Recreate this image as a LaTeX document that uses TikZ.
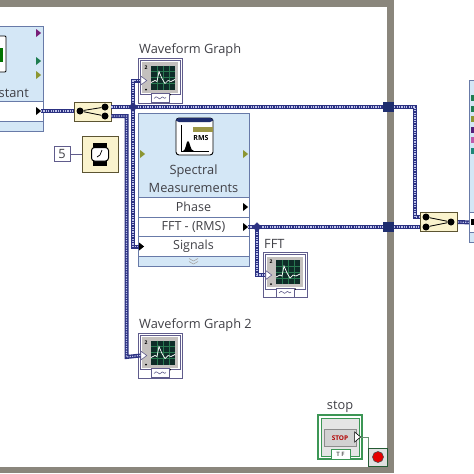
\documentclass[tikz,border=0pt]{standalone}
\usepackage{xcolor}
\usepackage{fontspec}
\setmainfont{Open Sans}
\usetikzlibrary{shapes.geometric,positioning,calc}
\definecolor{framegray}{RGB}{138,134,124}
\definecolor{wireblue}{RGB}{44,50,130}
\definecolor{wirelight}{RGB}{190,195,235}
\definecolor{tunnelblue}{RGB}{30,45,110}
\definecolor{blockfill}{RGB}{212,231,246}
\definecolor{blockline}{RGB}{104,122,168}
\definecolor{creamfill}{RGB}{250,243,205}
\definecolor{creamline}{RGB}{92,84,50}
\definecolor{darktext}{RGB}{64,64,70}
\definecolor{iconline}{RGB}{96,92,140}
\definecolor{panelgray}{RGB}{196,192,190}
\definecolor{plotblack}{RGB}{14,44,40}
\definecolor{plotgreen}{RGB}{40,120,80}
\definecolor{termmagenta}{RGB}{120,30,120}
\definecolor{termgreen}{RGB}{30,125,80}
\definecolor{termolive}{RGB}{140,150,50}
\definecolor{termpurple}{RGB}{85,30,120}
\definecolor{termpink}{RGB}{190,90,170}
\definecolor{termteal}{RGB}{30,135,120}
\definecolor{stopgreen}{RGB}{60,150,85}
\tikzset{
  frameline/.style={fill=framegray, draw=none},
  block/.style   ={rectangle, draw=blockline, fill=blockfill, line width=0.8pt, inner sep=0pt, outer sep=0pt},
  rowbox/.style  ={rectangle, draw=blockline, fill=white, line width=0.8pt, inner sep=0pt, outer sep=0pt,
                   minimum width=111pt, font=\fontsize{12.5}{13}\selectfont, text=darktext},
  lbl/.style     ={font=\fontsize{12.8}{13}\selectfont, text=darktext, inner sep=0pt},
  term/.style    ={isosceles triangle, isosceles triangle stretches, minimum width=8pt, minimum height=5pt,
                   inner sep=0pt, outer sep=0pt, fill=black},
  wire/.style    ={draw=wireblue, line width=4pt, line join=miter,
                   postaction={draw=wirelight, line width=1.2pt, dash pattern=on 1.2pt off 1.2pt}},
  junct/.style   ={diamond, fill=wireblue, draw=wireblue, inner sep=0pt, minimum size=9pt},
  tunnel/.style  ={rectangle, fill=tunnelblue, minimum width=11pt, minimum height=10pt, inner sep=0pt},
  merge/.style   ={rectangle, draw=creamline, fill=creamfill, line width=0.9pt, inner sep=0pt,
                   minimum width=37pt, minimum height=19pt},
  dot/.style     ={circle, fill=black, inner sep=0pt, minimum size=7pt},
  graphbox/.style={rectangle, draw=iconline, fill=white, line width=0.9pt, inner sep=0pt,
                   minimum width=44pt, minimum height=45pt}
}
\newcommand{\graphicon}[3]{
  \node[graphbox] (#1) at (#2,#3) {};
  \begin{scope}[shift={(#1.center)}]
    \draw[iconline, fill=white, line width=0.5pt] (-20,-20.5) rectangle (20,14);
    \fill[panelgray] (-18,-18.5) rectangle (18,12);
    \fill[plotblack] (-9,-15) rectangle (15,9);
    \foreach \gx in {-3,3,9}
      \draw[plotgreen, line width=0.3pt] (\gx,-15) -- (\gx,9);
    \foreach \gy in {-9,-3,3}
      \draw[plotgreen, line width=0.3pt] (-9,\gy) -- (15,\gy);
    \draw[white, line width=0.7pt] (-9,2) -- (-5,0) -- (-3,1) -- (-1,-9) -- (2,-2) -- (5,3) -- (8,0) -- (11,1) -- (15,-1);
    \node[font=\fontsize{5}{5}\selectfont\bfseries, inner sep=0pt] (#1n) at (-14,-13) {2};
    \fill (-14,9) circle (1pt);
    \fill (-8,14) circle (1pt) (10,14) circle (1pt);
    \draw[iconline, fill=white, line width=0.6pt] (-9,13) rectangle (9,22);
    \draw[iconline, line width=0.6pt] (-6,18) .. controls (-3,13) and (-1,21) .. (1,17.5) .. controls (3,14) and (4,20) .. (6,17);
    \node[isosceles triangle, isosceles triangle stretches, minimum width=9pt, minimum height=6pt,
          inner sep=0pt, fill=white, draw=iconline, line width=0.6pt] (#1t) at (-17,0) {};
  \end{scope}
}
\begin{document}
\begin{tikzpicture}[x=1pt,y=-1pt]
\useasboundingbox (0,0) rectangle (474,474);
% ---- Loop frame ----
\fill[frameline] (0,0) rectangle (393,7);
\fill[frameline] (387,0) rectangle (393.5,473);
\fill[frameline] (0,467) rectangle (393.5,473);

% ---- Left block ----
\node[block, minimum width=63pt, minimum height=105pt] (constblock) at (11.5,78.5) {};
\node[rectangle, draw=blockline, fill=white, line width=0.8pt, minimum width=63pt, minimum height=20pt, inner sep=0pt] (constrow) at (11.5,111) {};
\node[lbl, anchor=east] (consttext) at (29,93) {stant};
\draw[black, fill=white, line width=0.8pt, rounded corners=1pt] (-6,36) rectangle (6,72);
\fill[green!45!black] (-6,48) rectangle (3,62);
\node[term, fill=termmagenta] (constm) at (38,33) {};
\node[term, fill=termgreen] (constg) at (38,61) {};
\node[term, fill=termolive] (consto) at (38,75) {};
\node[term] (constout) at (38,111) {};

% ---- Split and wait ----
\node[merge] (splitnode) at (92.5,111.5) {};
\node[dot] (splita) at (80,111) {};
\node[dot] (splitb) at (105,107) {};
\node[dot] (splitc) at (105,116) {};
\draw[black, line width=0.8pt] (splita) -- (splitb);
\draw[black, line width=0.8pt] (splita) -- (splitc);
\node[rectangle, draw=iconline, fill=white, line width=0.9pt, minimum width=16pt, minimum height=15pt, inner sep=0pt, lbl] (fiveconst) at (62,154) {5};
\node[rectangle, draw=creamline, fill=creamfill, line width=0.9pt, minimum width=36pt, minimum height=36pt, inner sep=0pt, right=12pt of fiveconst] (waitnode) {};
\draw[iconline, line width=0.8pt] (fiveconst) -- (waitnode);
\fill[black] (93,143) rectangle (107,149);
\fill[black] (93,160) rectangle (107,166);
\draw[black, fill=white, line width=1pt, rounded corners=3pt] (91.5,147.5) rectangle (108.5,161);
\draw[black, line width=0.7pt] (100,155) -- (102,150) (100,155) -- (97,157);

% ---- Graphs ----
\graphicon{wavegraph}{160}{80.5}
\node[lbl, anchor=west] (wavelabel) at (139,50.5) {Waveform Graph};
\graphicon{wavegraphb}{160}{355.5}
\node[lbl, anchor=west] (wavelabelb) at (139,325.5) {Waveform Graph 2};
\graphicon{fftgraph}{285}{275}
\node[lbl, anchor=west] (fftlabel) at (264,244) {FFT};

% ---- Spectral block ----
\node[block, minimum width=111pt, minimum height=153pt] (specblock) at (193.5,189.5) {};
\node[rowbox, minimum height=20pt] (phaserow) at (193.5,207) {Phase};
\node[rowbox, minimum height=19.5pt, below=0pt of phaserow] (fftrow) {FFT - (RMS)};
\node[rowbox, minimum height=19.5pt, below=0pt of fftrow] (signalrow) {Signals};
\node[lbl] (spectext) at (193.5,171) {Spectral};
\node[lbl] (meastext) at (193.5,188) {Measurements};
\draw[black!35, line width=0.6pt] (189,258.5) -- (193.5,261) -- (198,258.5) (189,261.5) -- (193.5,264) -- (198,261.5);
\draw[black, fill=white, line width=0.9pt, rounded corners=3pt] (176,118) rectangle (213,155);
\fill[tunnelblue] (176,118) [rounded corners=3pt] -- (213,118) -- (213,122) -- (176,122) -- cycle;
\fill[yellow!55!black] (193,127) rectangle (213,132);
\draw[black, line width=0.6pt] (181,125) -- (181,151) -- (209,151);
\fill[black] (183,151) .. controls (186,151) and (186,141) .. (188,141) .. controls (190,141) and (190,151) .. (194,151) -- cycle;
\node[font=\fontsize{7}{7}\selectfont\bfseries, inner sep=0pt] (rmstext) at (201,138) {RMS};
\node[term, fill=termolive] (specin) at (142,154) {};
\node[term, fill=termolive] (specout) at (245,154) {};
\node[term] (phaseout) at (245,207) {};
\node[term] (fftout) at (245,227) {};
\node[term] (signalin) at (141,246.5) {};

% ---- Stop ----
\node[rectangle, draw=stopgreen, fill=white, line width=1.4pt, minimum width=44pt, minimum height=44pt, inner sep=0pt] (stopbox) at (340,437) {};
\node[rectangle, draw=stopgreen, fill=black!10, line width=0.8pt, minimum width=38pt, minimum height=38pt, inner sep=0pt] (stoppanel) at (340,437) {};
\node[rectangle, draw=black!45, fill=black!18, line width=0.8pt, minimum width=32pt, minimum height=17pt, inner sep=0pt,
      font=\fontsize{6.5}{7}\selectfont\bfseries, text=red!70!black] (stopbutton) at (340,438) {STOP};
\node[lbl] (stoplabel) at (340,407) {stop};
\node[rectangle, draw=stopgreen, fill=white, line width=0.8pt, minimum width=19pt, minimum height=10pt, inner sep=0pt,
      font=\fontsize{6}{6}\selectfont\bfseries, text=black!60] (tfbox) at (340.5,454) {T F};
\node[isosceles triangle, isosceles triangle stretches, minimum width=10pt, minimum height=6pt, inner sep=0pt,
      fill=white, draw=black, line width=0.6pt] (stopterm) at (357,437) {};
\node[rectangle, draw=stopgreen!60!black, fill=black!12, line width=0.9pt, minimum width=19pt, minimum height=18pt, inner sep=0pt] (condnode) at (378,457) {};
\node[circle, draw=black!70, fill=red!90!black, line width=0.6pt, minimum size=11pt, inner sep=0pt] (conddot) at (378,457) {};
\draw[black!35!stopgreen!70, line width=0.8pt] (stopterm.east) -| (condnode.north west);

% ---- Right block ----
\node[block, minimum width=30pt, minimum height=162pt, anchor=north west] (appblock) at (469,80) {};
\node[rectangle, draw=blockline, fill=white, line width=0.8pt, minimum width=30pt, minimum height=20pt, inner sep=0pt, anchor=north west] (approw) at (469,212) {};
\foreach \ty/\tc in {98/termgreen,109/termgreen,119/termolive,130/termpurple,140/termpink,151/termteal}
  \fill[\tc] (471,\ty-3) rectangle (474,\ty+3);
\fill[black] (471,219) rectangle (474,225);

% ---- Merge ----
\node[merge] (mergenode) at (439,222) {};
\node[dot] (mergea) at (426,217) {};
\node[dot] (mergeb) at (426,227) {};
\node[dot] (mergec) at (451,222) {};
\draw[black, line width=0.8pt] (mergea) -- (mergec);
\draw[black, line width=0.8pt] (mergeb) -- (mergec);

% ---- Wires ----
\node[tunnel] (tunnela) at (388.5,107) {};
\node[tunnel] (tunnelb) at (388.5,227) {};
\coordinate (splitouta) at (splitnode.east |- splitb);
\coordinate (splitoutb) at (splitnode.east |- splitc);
\coordinate (mergeina) at (mergenode.west |- mergea);
\coordinate (mergeinb) at (mergenode.west |- mergeb);
\coordinate (mergeout) at (mergenode.east |- mergec);
\coordinate (constend) at (splitnode.west |- constout);
\coordinate (wavein) at (wavegrapht.west);
\coordinate (wavebin) at (wavegraphbt.west);
\coordinate (fftin) at (fftgrapht.west);
\coordinate (signalend) at (signalin.west);
\coordinate (appin) at (approw.west);
\draw[wire] (constout.east) -- (constend);
\draw[wire] (splitouta) -- (tunnela);
\draw[wire] (tunnela) -- (415,107) |- (mergeina);
\draw[wire] (fftout.east) -- (tunnelb);
\draw[wire] (tunnelb) -- (mergeinb);
\draw[wire] (mergeout) -- (appin);
\draw[wire] (splitoutb) -| (126.5,240) -- (126.5,357) -- (wavebin);
\draw[wire] (wavein) -| (133,107) -- (133,246.5) -- (signalend);
\node[junct] (wavejunct) at (133,107) {};
\draw[wire] (257,227) |- (fftin);
\node[junct] (fftjunct) at (257,227) {};
\fill[tunnelblue] (tunnela.south west) rectangle (tunnela.north east);
\fill[tunnelblue] (tunnelb.south west) rectangle (tunnelb.north east);
\end{tikzpicture}
\end{document}
